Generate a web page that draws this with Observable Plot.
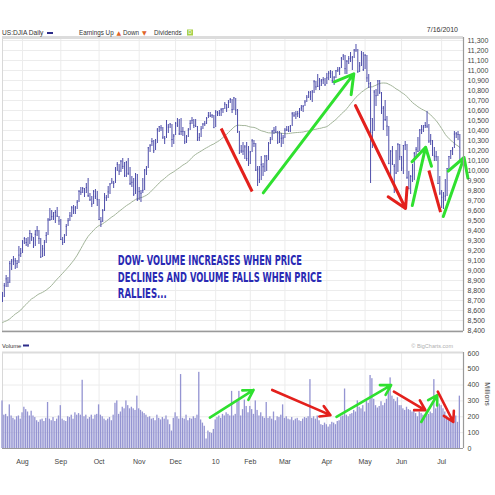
<!DOCTYPE html>
<html><head><meta charset="utf-8">
<script src="https://cdn.jsdelivr.net/npm/d3@7"></script>
<script src="https://cdn.jsdelivr.net/npm/@observablehq/plot@0.6"></script>
<style>
body{margin:0;background:#fff;}
#wrap{position:relative;width:495px;height:495px;overflow:hidden;background:#fff;}
#wrap svg{position:absolute;left:0;}
</style></head><body><div id="wrap"></div>
<script>
// ---- DATA (trading-day index 0 = 7/17/2009 ... 251 = 7/16/2010) ----
const closes = [
 8743,8848,8916,8882,9069,9093,9108,9096,9070,9154,9172,
 9286,9320,9280,9256,9370,9337,9241,9362,9398,9321,9135,9217,9279,9350,9505,9509,9539,9543,9580,9544,9496,
 9310,9280,9344,9441,9497,9547,9627,9605,9626,9683,9791,9783,9820,9778,9829,9748,9707,9665,9789,9742,9712,
 9509,9488,9599,9731,9725,9786,9865,9885,9871,10015,10062,9995,10093,10041,9949,10081,9972,9868,9882,9763,9962,9713,
 9789,9772,9802,10005,10023,10227,10247,10291,10198,10270,10406,10437,10427,10333,10318,10451,10434,10464,10310,10345,
 10472,10453,10366,10389,10390,10286,10337,10405,10471,10501,10452,10441,10309,10328,10414,10464,10467,10520,10548,10545,10548,10428,
 10584,10573,10574,10607,10618,10663,10627,10680,10711,10610,10726,10604,10390,10173,10196,10194,10236,10120,10067,
 10185,10297,10270,10003,10013,9908,10058,10038,10144,10099,10269,10310,10393,10403,10384,10283,10375,10322,10325,
 10404,10406,10396,10444,10567,10553,10564,10568,10611,10625,10642,10685,10733,10779,10742,10785,10888,10836,10841,10850,10895,10907,10857,
 10927,10974,10970,10898,10928,10997,11005,11019,11123,11145,11019,11092,11117,11125,11134,11204,11205,10991,11045,11167,11009,
 11151,10926,10868,10520,10380,10785,10748,10896,10783,10620,10625,10510,10444,10068,10193,10067,10043,9975,10259,10137,
 10025,10250,10255,9932,9816,9940,9899,10173,10212,10191,10405,10410,10435,10450,10443,10294,10298,10153,10144,10138,9870,9774,
 9732,9686,9744,10019,10139,10198,10216,10364,10367,10360,10098
];
const highs = [
 8780,8870,8950,8930,9090,9110,9140,9120,9100,9240,9220,
 9300,9330,9320,9330,9400,9370,9330,9400,9440,9400,9320,9250,9300,9380,9520,9620,9600,9580,9600,9630,9540,
 9510,9330,9360,9460,9520,9580,9640,9650,9640,9700,9800,9830,9830,9820,9870,9920,9770,9740,9800,9810,9790,
 9710,9530,9610,9770,9750,9840,9870,9920,9890,10030,10080,10060,10100,10120,10080,10090,10120,10030,9940,9920,9970,9960,
 9830,9800,9920,10010,10040,10230,10260,10320,10300,10310,10420,10440,10450,10430,10340,10500,10460,10470,10460,10360,
 10480,10520,10510,10520,10430,10390,10350,10420,10500,10530,10510,10510,10440,10370,10440,10470,10490,10530,10580,10580,10560,10550,
 10600,10590,10600,10620,10620,10680,10660,10700,10720,10710,10730,10720,10610,10390,10250,10280,10250,10280,10240,
 10190,10310,10300,10270,10040,10040,10140,10070,10150,10150,10280,10330,10400,10430,10440,10390,10390,10370,10350,
 10420,10440,10440,10450,10580,10580,10590,10590,10620,10650,10650,10700,10750,10790,10790,10800,10900,10890,10960,10920,10910,10930,10920,
 10970,10990,11000,10990,10940,11000,11030,11030,11130,11160,11150,11100,11140,11180,11140,11210,11260,11210,11080,11190,11180,
 11160,11150,10960,10880,10520,10800,10810,10900,10900,10780,10640,10700,10540,10440,10200,10240,10060,10200,10270,10260,
 10140,10250,10290,10260,9990,9950,10060,10180,10230,10330,10410,10450,10450,10480,10590,10460,10360,10300,10230,10190,10140,9940,
 9800,9780,9910,10020,10140,10200,10230,10390,10380,10390,10360
];
const lows = [
 8680,8730,8830,8830,8870,9000,9050,9010,9020,9070,9130,
 9170,9260,9240,9230,9260,9290,9220,9240,9340,9260,9120,9130,9140,9270,9350,9490,9500,9500,9470,9530,9450,
 9300,9250,9270,9340,9440,9490,9530,9560,9560,9610,9680,9750,9770,9730,9770,9730,9690,9630,9660,9710,9640,
 9500,9430,9480,9590,9690,9720,9760,9860,9820,9870,9990,9950,9980,10010,9930,9930,9950,9850,9830,9740,9760,9690,
 9700,9680,9770,9800,9950,10020,10180,10240,10170,10200,10270,10380,10390,10310,10260,10320,10370,10420,10230,10260,
 10350,10430,10350,10350,10340,10260,10270,10330,10400,10460,10420,10430,10290,10290,10330,10410,10440,10460,10520,10530,10520,10420,
 10430,10540,10540,10540,10570,10610,10580,10620,10670,10570,10600,10550,10370,10160,10170,10150,10110,10090,10040,
 10060,10180,10230,9990,9840,9870,9900,9940,9980,9990,10100,10260,10300,10360,10370,10260,10270,10230,10260,
 10320,10390,10380,10380,10440,10530,10510,10530,10520,10590,10580,10640,10680,10720,10700,10680,10770,10800,10830,10800,10840,10860,10840,
 10860,10900,10920,10870,10850,10920,10980,10950,11020,11100,10960,10960,11060,11080,11000,11120,11180,10970,10980,11040,10990,
 11010,10880,10820,9870,10220,10390,10640,10740,10760,10560,10400,10490,10340,10060,9920,10050,9770,9960,9980,10100,
 9990,9960,10200,9910,9810,9760,9880,9900,10120,10180,10190,10360,10380,10420,10420,10270,10250,10140,10090,10090,9860,9750,
 9620,9610,9690,9740,10010,10110,10150,10220,10320,10300,10080
];
// closes of the 49 sessions before 7/17/2009 (feed the 50-day moving average)
const priorCloses = [
 8409,8575,8418,8469,8284,8331,8268,8504,8475,8422,8292,8277,8473,8300,8403,8500,
 8721,8740,8675,8750,8764,8764,8763,8739,8770,8799,8612,8504,8497,8555,8539,8339,8323,8299,8472,8438,8529,8447,
 8504,8280,8324,8163,8179,8183,8146,8332,8359,8616,8711
];
// volume, millions
const volumes = [
 300,210,215,200,275,205,190,180,200,205,185,
 225,260,245,230,205,235,205,195,175,165,180,185,170,190,290,185,175,195,170,185,205,
 270,185,175,170,200,195,210,185,225,210,220,210,430,200,210,185,195,210,185,210,215,
 275,210,200,185,175,185,195,175,210,285,300,215,230,260,250,300,270,250,260,250,240,330,
 250,240,230,220,210,195,200,185,190,175,210,190,180,195,185,205,180,150,110,190,
 225,200,185,466,190,185,210,175,190,185,200,190,210,480,180,160,140,60,110,100,95,120,
 180,195,205,190,215,205,225,215,205,360,205,215,300,360,205,245,305,265,225,
 265,245,215,300,240,205,225,200,190,290,190,200,185,230,175,200,195,210,275,
 190,200,185,180,195,175,185,190,175,170,185,195,190,200,434,190,200,185,205,175,150,145,160,
 150,135,150,165,160,150,170,175,200,205,375,210,200,215,220,240,230,300,260,250,270,
 230,300,285,460,440,310,270,255,265,295,270,285,310,400,445,330,310,295,320,270,
 270,250,240,260,245,240,230,235,220,200,230,220,210,200,225,215,230,220,434,250,310,280,
 270,250,230,205,190,180,200,172,205,165,330
];
const monthStarts = [11,32,53,75,95,117,136,155,178,199,219,241];
const monthLabels = ["Aug","Sep","Oct","Nov","Dec","10","Feb","Mar","Apr","May","Jun","Jul"];
const priceTicks = [8400,8500,8600,8700,8800,8900,9000,9100,9200,9300,9400,9500,9600,9700,9800,9900,10000,10100,10200,10300,10400,10500,10600,10700,10800,10900,11000,11100,11200,11300];
const volTicks = [0,100,200,300,400,500,600];
// annotation arrows (trading-day index, value)
const priceArrows = [
 {kind:"rally",   i1:143.1, p1:9777,  i2:192.8, p2:10967},
 {kind:"decline", i1:193.7, p1:10650, i2:221.2, p2:9620},
 {kind:"rally",   i1:224.9, p1:9650,  i2:232.2, p2:10233},
 {kind:"rally",   i1:241.9, p1:9540,  i2:253.3, p2:10130}
];
const priceLines = [
 {kind:"decline", i1:120.0, p1:10420, i2:137.0, p2:9790},
 {kind:"decline", i1:234.0, p1:10000, i2:240.4, p2:9583}
];
const volumeArrows = [
 {kind:"rally",   i1:113.8, v1:195, i2:137.8, v2:369},
 {kind:"decline", i1:148.0, v1:369, i2:180.0, v2:210},
 {kind:"rally",   i1:183.3, v1:199, i2:213.3, v2:400},
 {kind:"decline", i1:214.8, v1:358, i2:232.1, v2:241},
 {kind:"rally",   i1:229.8, v1:167, i2:238.6, v2:337},
 {kind:"decline", i1:238.9, v1:358, i2:247.4, v2:167}
];
const noteLines = [
 {i:63.3, p:9100, text:"DOW- VOLUME INCREASES WHEN PRICE"},
 {i:63.3, p:8930, text:"DECLINES AND VOLUME FALLS WHEN PRICE"},
 {i:63.3, p:8773, text:"RALLIES..."}
];

// ---- STYLE ----
const X_DOMAIN = [0, 253];
const P_DOMAIN = [8390, 11330];
const V_DOMAIN = [0, 605];
const PRICE_C = "#4e4eaa", MA_C = "#a3b59a", VOL_C = "#9494d2";
const RED = "#e3201c", GREEN = "#2fe02f", NOTE_C = "#2a2ab4";
const GRID = "#ececec";
const FONT = "'Liberation Sans', Arial, sans-serif";
const NOTE_WIDTHS = [184, 204, 49];
const kindColor = {domain:["decline","rally"], range:[RED, GREEN]};

const rows = closes.map((c,i)=>({i, close:c, high:highs[i], low:lows[i]}));
const maRows = priorCloses.map((c,k)=>({i:k-priorCloses.length, close:c})).concat(rows);
const volRows = volumes.map((v,i)=>({i, v}));
const monthMap = new Map(monthStarts.map((m,k)=>[m, monthLabels[k]]));

const wrap = document.getElementById("wrap");

const price = Plot.plot({
  width:495, height:334,
  marginTop:37, marginBottom:3, marginLeft:2, marginRight:32,
  x:{domain:X_DOMAIN, axis:null},
  y:{domain:P_DOMAIN, axis:null},
  color: kindColor,
  style:{fontFamily:FONT, fontSize:"7px", color:"#444", background:"transparent", overflow:"visible"},
  marks:[
    Plot.ruleY(priceTicks, {stroke:GRID}),
    Plot.ruleX(monthStarts, {stroke:GRID}),
    Plot.ruleX([X_DOMAIN[0]], {stroke:"#d8d8d8"}),
    Plot.lineY(maRows, Plot.windowY({k:50, anchor:"end"}, {x:"i", y:"close", stroke:MA_C, strokeWidth:1, clip:true})),
    Plot.ruleX(rows, {x:"i", y1:"low", y2:"high", stroke:PRICE_C, strokeWidth:1}),
    Plot.ruleY(rows, {y:"close", x1:"i", x2:d=>d.i+0.6, stroke:PRICE_C, strokeWidth:1}),
    Plot.text(noteLines, {x:"i", y:"p", text:"text", textAnchor:"start", fill:NOTE_C, fontWeight:"bold", fontSize:14, fontFamily:"'Liberation Sans Narrow','DejaVu Sans Condensed','Liberation Sans',sans-serif"}),
    Plot.link(priceLines, {x1:"i1", y1:"p1", x2:"i2", y2:"p2", stroke:"kind", strokeWidth:3}),
    Plot.arrow(priceArrows, {x1:"i1", y1:"p1", x2:"i2", y2:"p2", stroke:"kind", strokeWidth:3, headLength:10.5, headAngle:60}),
    Plot.ruleY([P_DOMAIN[1]], {stroke:"#dcdcdc", strokeWidth:3}),
    Plot.ruleY([P_DOMAIN[0]], {stroke:"#9a9a9a", strokeWidth:1.5}),
    Plot.ruleX([X_DOMAIN[1]], {stroke:"#9a9a9a", strokeWidth:1.2}),
    Plot.axisY(priceTicks, {anchor:"right", tickSize:0, tickPadding:4, tickFormat:d3.format(","), fontSize:7})
  ]
});
price.style.top = "0px";
wrap.appendChild(price);

// compress the note lines to the reference widths
d3.select(price).selectAll('g[aria-label="text"] text').each(function(d, k){
  d3.select(this).attr("textLength", NOTE_WIDTHS[k]).attr("lengthAdjust", "spacingAndGlyphs");
});

const vol = Plot.plot({
  width:495, height:135,
  marginTop:12, marginBottom:27, marginLeft:2, marginRight:32,
  x:{domain:X_DOMAIN, axis:null},
  y:{domain:V_DOMAIN, axis:null},
  color: kindColor,
  style:{fontFamily:FONT, fontSize:"7px", color:"#444", background:"transparent", overflow:"visible"},
  marks:[
    Plot.ruleY(volTicks.filter(t=>t>0 && t<600), {stroke:GRID}),
    Plot.ruleX(monthStarts, {stroke:GRID}),
    Plot.ruleX([X_DOMAIN[0]], {stroke:"#d8d8d8"}),
    Plot.rectY(volRows, {x1:d=>d.i-0.36, x2:d=>d.i+0.36, y:"v", fill:VOL_C}),
    Plot.arrow(volumeArrows, {x1:"i1", y1:"v1", x2:"i2", y2:"v2", stroke:"kind", strokeWidth:2.6, headLength:6.5, headAngle:60}),
    Plot.ruleY([V_DOMAIN[1]], {stroke:"#dcdcdc", strokeWidth:2}),
    Plot.ruleY([V_DOMAIN[0]], {stroke:"#9a9a9a", strokeWidth:1}),
    Plot.ruleX([X_DOMAIN[1]], {stroke:"#9a9a9a", strokeWidth:1.2}),
    Plot.axisY(volTicks, {anchor:"right", tickSize:0, tickPadding:4, fontSize:7}),
    Plot.axisX(monthStarts, {anchor:"bottom", tickSize:0, tickPadding:11, tickFormat:d=>monthMap.get(d), fontSize:7})
  ]
});
vol.style.top = "340px";
wrap.appendChild(vol);

// ---- header / legend texts ----
function txt(svg, x, y, s, opts = {}) {
  return d3.select(svg).append("text").attr("x", x).attr("y", y)
    .attr("font-family", opts.font || FONT).attr("font-size", opts.size || 7)
    .attr("fill", opts.fill || "#333").attr("text-anchor", opts.anchor || "start").text(s);
}
txt(price, 2, 35, "US:DJIA Daily", {size:6.6});
d3.select(price).append("rect").attr("x",47).attr("y",32).attr("width",6).attr("height",2).attr("fill","#2c2c8a");
txt(price, 79, 35, "Earnings Up", {size:6.3});
txt(price, 116.5, 35, "\u25B2", {fill:"#e0642a", font:"'DejaVu Sans', sans-serif", size:6});
txt(price, 123, 35, "Down", {size:6.3});
txt(price, 142, 35, "\u25BC", {fill:"#e0642a", font:"'DejaVu Sans', sans-serif", size:6});
txt(price, 154, 35, "Dividends", {size:6.3});
d3.select(price).append("rect").attr("x",187).attr("y",29.5).attr("width",6).attr("height",6).attr("fill","#a6d04a");
txt(price, 190, 34.3, "D", {fill:"#ffffff", size:5, anchor:"middle"});
txt(price, 458, 32, "7/16/2010", {anchor:"end"});

txt(vol, 2, 7.5, "Volume", {size:5.8});
d3.select(vol).append("rect").attr("x",23).attr("y",4.5).attr("width",6).attr("height",2).attr("fill","#2c2c8a");
txt(vol, 453, 7.5, "\u00A9 BigCharts.com", {fill:"#b0b0b0", size:5.5, anchor:"end"});
d3.select(vol).append("text").attr("transform","translate(485,54) rotate(90)")
  .attr("font-family", FONT).attr("font-size", 7).attr("fill", "#444").attr("text-anchor","middle").text("Millions");
</script></body></html>
